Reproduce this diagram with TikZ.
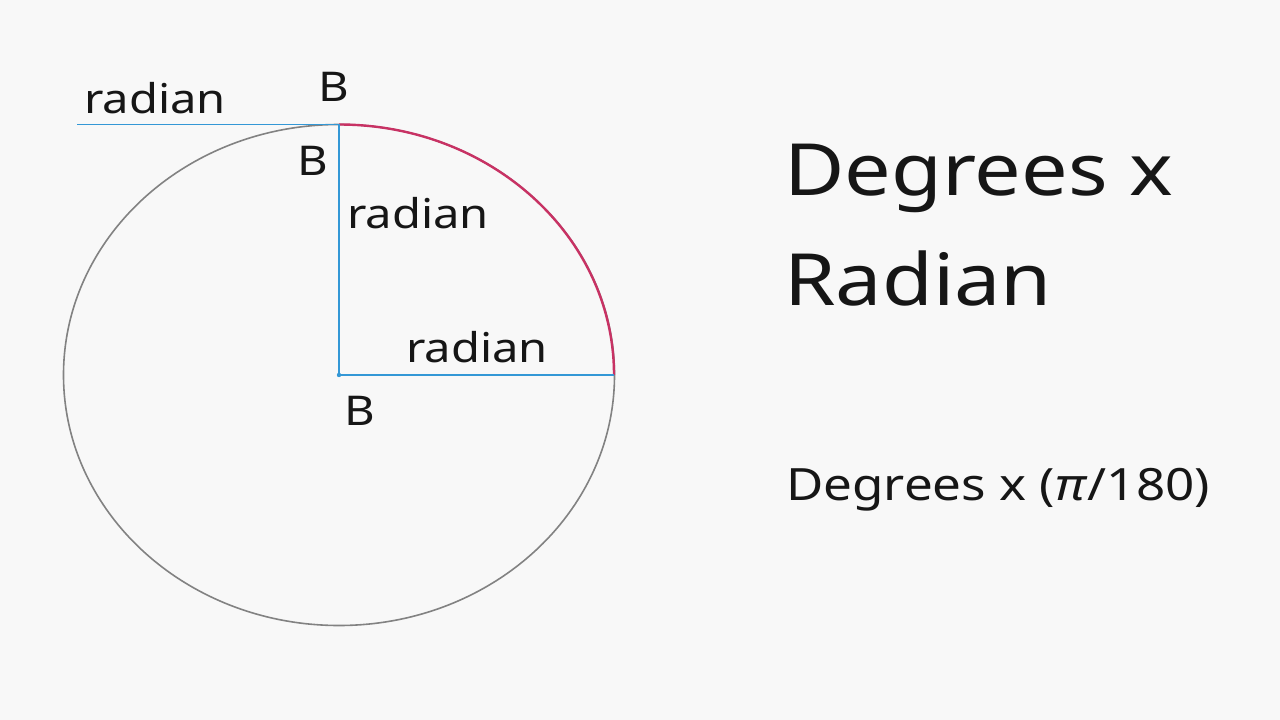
\documentclass[tikz,border=0pt]{standalone}
\usepackage{fontspec}
\setmainfont{Noto Sans}[FakeStretch=1.15]
\definecolor{bgc}{RGB}{248,248,248}
\definecolor{bluec}{RGB}{52,152,214}
\definecolor{redc}{RGB}{200,50,100}
\definecolor{grayc}{RGB}{130,130,130}
\definecolor{textc}{RGB}{22,22,22}
\begin{document}
\begin{tikzpicture}[x=1pt,y=-1pt,
  lbl/.style={anchor=base west,inner sep=0pt,font=\fontsize{41}{48}\selectfont,text=textc},
  big/.style={anchor=base west,inner sep=0pt,font=\fontsize{72}{110}\selectfont,text=textc},
  mid/.style={anchor=base west,inner sep=0pt,font=\fontsize{44.5}{52}\selectfont,text=textc},
  radline/.style={draw=bluec,line width=1.8pt},
  arcline/.style={draw=redc,line width=2.4pt},
  circline/.style={draw=grayc,line width=1.6pt}]
\fill[bgc] (0,0) rectangle (1280,720);
\useasboundingbox (0,0) rectangle (1280,720);
\coordinate (O) at (339,375);
\coordinate (T) at (339,124.5);
\coordinate (R) at (614,375);
\coordinate (L) at (77,124.5);
\draw[circline] (O) ellipse [x radius=275.5, y radius=250.5];
\draw[arcline] (T) arc [start angle=-90, end angle=0, x radius=275, y radius=250.5];
\draw[radline] (L) -- (T) -- (O) -- (R);
\fill[bluec] (O) circle (2.2);
\node[lbl] (r1) at (84,113) {radian};
\node[lbl] (b1) at (318,101) {B};
\node[lbl] (b2) at (297,175) {B};
\node[lbl] (r2) at (347,228) {radian};
\node[lbl] (r3) at (406,362) {radian};
\node[lbl] (b3) at (344,425) {B};
\node[big] (t1) at (784,195) {Degrees x};
\node[big] (t2) at (784,305) {Radian};
\node[mid] (f) at (786,500) {Degrees x (\textit{π}/180)};
\end{tikzpicture}
\end{document}
